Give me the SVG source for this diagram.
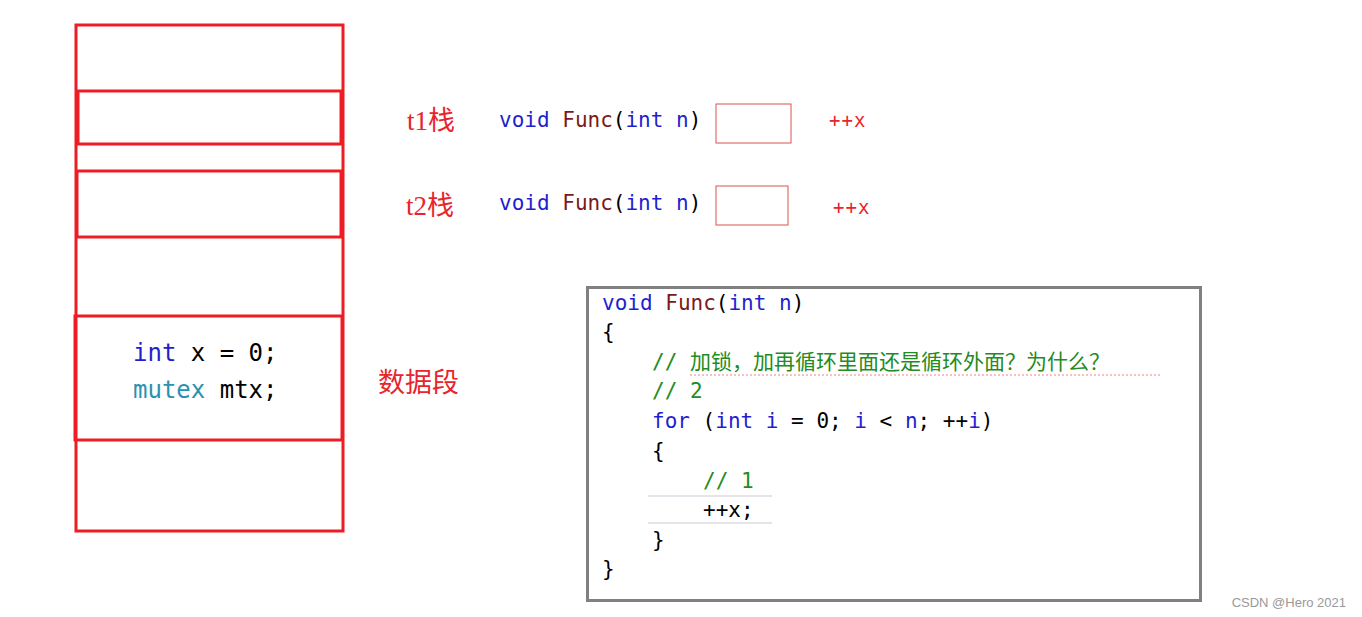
<svg xmlns="http://www.w3.org/2000/svg" width="1362" height="617" viewBox="0 0 1362 617">
<style>
.r{fill:none;stroke:#ee1c25;stroke-width:3}
.lbl{font-family:"Liberation Serif","Noto Sans CJK SC",serif;font-size:27px;fill:#e8242c}
.code{font-family:"DejaVu Sans Mono","Liberation Mono","Noto Sans CJK SC",monospace;font-size:21px}
.big{font-size:24px}
.k{fill:#1f1fd0}.f{fill:#7a1a1a}.c{fill:#228b22}.t{fill:#2b91af}.b{fill:#000}
.px{font-family:"DejaVu Sans Mono",monospace;font-size:19px;fill:#e8242c;letter-spacing:1px}
</style>
<rect width="1362" height="617" fill="#fff"/>
<g id="memory">
<rect class="r" x="76" y="25" width="267" height="506"/>
<rect class="r" x="78" y="91" width="263" height="53"/>
<rect class="r" x="77" y="171" width="264" height="66"/>
<rect class="r" x="75" y="316" width="267" height="124"/>
<text class="code big" x="133" y="361"><tspan class="k">int</tspan><tspan class="b"> x = 0;</tspan></text>
<text class="code big" x="133" y="398"><tspan class="t">mutex</tspan><tspan class="b"> mtx;</tspan></text>
</g>
<g id="labels">
<text class="lbl" x="407" y="130">t1栈</text>
<text class="lbl" x="406" y="215">t2栈</text>
<text class="lbl" x="378" y="392">数据段</text>
</g>
<g id="t1">
<text class="code" x="499" y="127"><tspan class="k">void</tspan> <tspan class="f">Func</tspan><tspan class="b">(</tspan><tspan class="k">int n</tspan><tspan class="b">)</tspan></text>
<rect x="716" y="104" width="75" height="39" fill="none" stroke="#d9534f" stroke-width="1"/>
<text class="px" x="829" y="127">++x</text>
</g>
<g id="t2">
<text class="code" x="499" y="210"><tspan class="k">void</tspan> <tspan class="f">Func</tspan><tspan class="b">(</tspan><tspan class="k">int n</tspan><tspan class="b">)</tspan></text>
<rect x="716" y="186" width="72" height="39" fill="none" stroke="#d9534f" stroke-width="1"/>
<text class="px" x="833" y="214">++x</text>
</g>
<g id="codebox">
<rect x="587.5" y="287.5" width="613" height="313" fill="#fff" stroke="#808080" stroke-width="3"/>
<line x1="648" y1="496" x2="772" y2="496" stroke="#e4e4ea" stroke-width="2"/>
<line x1="648" y1="523" x2="772" y2="523" stroke="#e4e4ea" stroke-width="2"/>
<g class="code">
<text x="602" y="310"><tspan class="k">void</tspan> <tspan class="f">Func</tspan><tspan class="b">(</tspan><tspan class="k">int n</tspan><tspan class="b">)</tspan></text>
<text x="602" y="339" class="b">{</text>
<text x="652" y="369" class="c">// 加锁，加再循环里面还是循环外面？为什么？</text>
<text x="652" y="398" class="c">// 2</text>
<text x="652" y="428"><tspan class="k">for</tspan><tspan class="b"> (</tspan><tspan class="k">int i</tspan><tspan class="b"> = 0; </tspan><tspan class="k">i</tspan><tspan class="b"> &lt; </tspan><tspan class="k">n</tspan><tspan class="b">; ++</tspan><tspan class="k">i</tspan><tspan class="b">)</tspan></text>
<text x="652" y="458" class="b">{</text>
<text x="703" y="488" class="c">// 1</text>
<text x="703" y="517" class="b">++x;</text>
<text x="652" y="547" class="b">}</text>
<text x="602" y="576" class="b">}</text>
</g>
<line x1="690" y1="375" x2="1160" y2="375" stroke="#f08080" stroke-width="1" stroke-dasharray="2 2"/>
</g>
<text x="1346" y="607" text-anchor="end" font-family="Liberation Sans,sans-serif" font-size="13" fill="#999">CSDN @Hero 2021</text>
</svg>
